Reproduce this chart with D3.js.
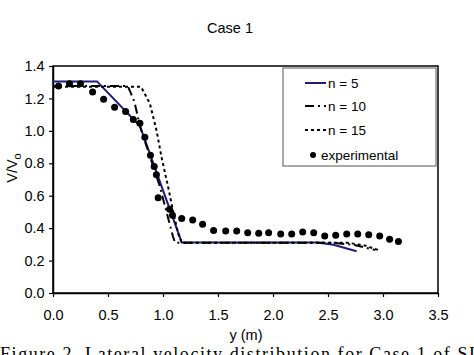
<!DOCTYPE html>
<html><head><meta charset="utf-8">
<script src="https://cdn.jsdelivr.net/npm/d3@7"></script>
<style>body{margin:0;background:#fff}svg{display:block}</style>
</head><body>
<svg id="c" width="474" height="355"></svg>
<script>
const xTicks = [0,0.5,1,1.5,2,2.5,3,3.5];
const yTicks = [0,0.2,0.4,0.6,0.8,1.0,1.2,1.4];
const seriesNames = ["n = 5","n = 10","n = 15","experimental"];
const n5 = [[0,1.305],[0.4,1.305],[0.79,1.03],[1.17,0.312],[2.4,0.312],[2.55,0.298],[2.76,0.258]];
const n10 = [[0,1.277],[0.68,1.277],[0.74,1.18],[0.79,1.03],[0.97,0.66],[1.09,0.35],[1.11,0.31],[2.55,0.31],[2.75,0.295],[2.93,0.265]];
const n15 = [[0,1.272],[0.8,1.272],[0.88,1.17],[0.94,1.006],[0.986,0.84],[1.046,0.656],[1.09,0.51],[1.137,0.368],[1.17,0.31],[2.68,0.31],[2.84,0.292],[2.97,0.262]];
const expX = [0.05,0.15,0.25,0.36,0.46,0.56,0.66,0.73,0.79,0.835,0.886,0.92,0.94,0.956,1.06,1.086,1.17,1.27,1.36,1.46,1.57,1.67,1.77,1.87,1.96,2.07,2.17,2.27,2.37,2.47,2.57,2.67,2.77,2.87,2.97,3.06,3.14];
const expY = [1.277,1.29,1.29,1.24,1.195,1.145,1.12,1.07,1.047,0.96,0.85,0.78,0.73,0.588,0.516,0.48,0.46,0.45,0.424,0.386,0.383,0.383,0.372,0.368,0.372,0.364,0.364,0.376,0.372,0.352,0.356,0.364,0.364,0.36,0.352,0.331,0.317];

const svg = d3.select("#c");
const L=53, R=438, T=66, B=293;
const x = d3.scaleLinear().domain([0,3.5]).range([L,R]);
const y = d3.scaleLinear().domain([0,1.4]).range([B,T]);
const font = "Liberation Sans, Arial, sans-serif";
const fs = 14.5;

svg.append("text").attr("x",230).attr("y",33).attr("text-anchor","middle")
  .attr("font-family",font).attr("font-size",fs).text("Case 1");

// frame
svg.append("rect").attr("x",L).attr("y",T).attr("width",R-L).attr("height",B-T)
  .attr("fill","none").attr("stroke","#000").attr("stroke-width",1.5);

const xa = svg.append("g").attr("transform",`translate(0,${B})`)
  .call(d3.axisBottom(x).tickValues(xTicks).tickFormat(d3.format(".1f")).tickSize(4).tickSizeOuter(0));
const ya = svg.append("g").attr("transform",`translate(${L},0)`)
  .call(d3.axisLeft(y).tickValues(yTicks).tickFormat(d3.format(".1f")).tickSize(4).tickSizeOuter(0));
[xa,ya].forEach(a=>{
  a.select(".domain").attr("stroke","#000").attr("stroke-width",1.5);
  a.selectAll("line").attr("stroke","#000").attr("stroke-width",1.2);
  a.selectAll("text").attr("font-family",font).attr("font-size",fs).attr("fill","#000");
});
xa.selectAll("text").attr("dy","1.4em");
ya.selectAll("text").attr("dx","-0.1em");

svg.append("text").attr("x",246).attr("y",340).attr("text-anchor","middle")
  .attr("font-family",font).attr("font-size",fs).text("y (m)");
const yl = svg.append("text").attr("transform","translate(17,168) rotate(-90)")
  .attr("text-anchor","middle").attr("font-family",font).attr("font-size",fs);
yl.append("tspan").text("V/V");
yl.append("tspan").attr("font-size",11).attr("dy",4).text("o");

const line = d3.line().x(d=>x(d[0])).y(d=>y(d[1]));
const styles = [
  {data:n5, stroke:"#1c1c7a", dash:null},
  {data:n10, stroke:"#000", dash:"9,4,2,4"},
  {data:n15, stroke:"#000", dash:"3,3"}
];
styles.forEach(s=>{
  svg.append("path").datum(s.data).attr("d",line).attr("fill","none")
    .attr("stroke",s.stroke).attr("stroke-width",2).attr("stroke-dasharray",s.dash);
});
svg.append("g").selectAll("circle").data(expX.map((v,i)=>[v,expY[i]])).join("circle")
  .attr("cx",d=>x(d[0])).attr("cy",d=>y(d[1])).attr("r",3.5).attr("fill","#000");

// legend
const lg = svg.append("g");
lg.append("rect").attr("x",283).attr("y",68).attr("width",153).attr("height",98)
  .attr("fill","#fff").attr("stroke","#555").attr("stroke-width",1);
const rows=[83,106,130,155];
styles.forEach((s,i)=>{
  lg.append("line").attr("x1",305).attr("x2",326).attr("y1",rows[i]).attr("y2",rows[i])
    .attr("stroke",s.stroke).attr("stroke-width",2).attr("stroke-dasharray",s.dash);
  lg.append("text").attr("x",328).attr("y",rows[i]+5).attr("font-family",font).attr("font-size",13.5).text(seriesNames[i]);
});
lg.append("circle").attr("cx",313).attr("cy",rows[3]).attr("r",3).attr("fill","#000");
lg.append("text").attr("x",321).attr("y",rows[3]+5).attr("font-family",font).attr("font-size",13.5).text(seriesNames[3]);

svg.append("text").attr("x",0).attr("y",360).attr("font-family","Liberation Serif, Times New Roman, serif")
  .attr("font-size",18).attr("textLength",480).text("Figure 2. Lateral velocity distribution for Case 1 of SL");
</script>
</body></html>
